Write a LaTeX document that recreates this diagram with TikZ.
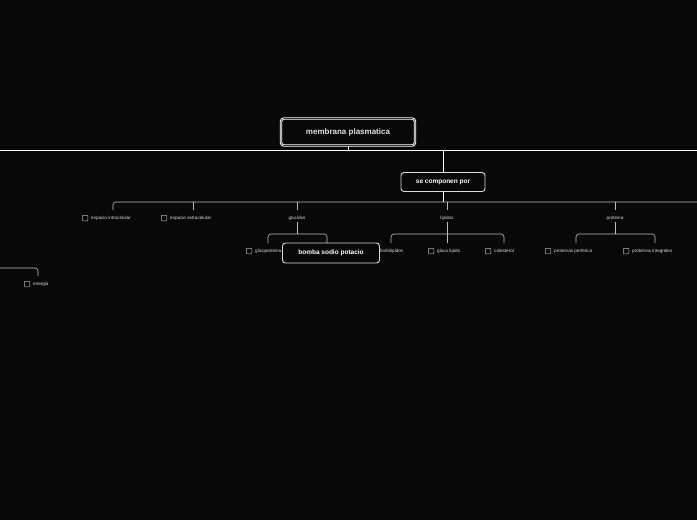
\documentclass[tikz,border=0pt]{standalone}
\usepackage{fontspec}
\setmainfont{Liberation Sans}
\begin{document}
\begin{tikzpicture}[x=1pt,y=-1pt,
  main/.style={draw=white,line width=0.9pt,rounded corners=3pt,fill=black!97,text=white!88!black,font=\bfseries\fontsize{8}{9}\selectfont,inner sep=0pt,double=black!80,double distance=0.6pt},
  sub/.style={draw=white!85!black,line width=0.9pt,rounded corners=3pt,fill=black!97,text=white,font=\bfseries\fontsize{6.5}{8}\selectfont,inner sep=0pt},
  lbl/.style={text=white!85!black,font=\fontsize{4.6}{5.5}\selectfont,inner sep=0pt,anchor=west},
  clbl/.style={text=white!85!black,font=\fontsize{4.6}{5.5}\selectfont,inner sep=0pt},
  cb/.style={draw=white!70!black,line width=0.5pt,rounded corners=0.8pt,minimum size=5.5pt,inner sep=0pt},
  wl/.style={draw=white,line width=0.9pt},
  gl/.style={draw=white!75!black,line width=0.6pt,rounded corners=3pt}]
\fill[black!98!blue!60!white] (0,0) rectangle (697,520);
\fill[black!97] (0,0) rectangle (697,520);
\useasboundingbox (0,0) rectangle (697,520);
% top lines
\coordinate (L) at (0,150); \coordinate (R) at (697,150);
\draw[wl] (L) -- (R);
\draw[wl] (348,146) -- (348,150);
\draw[wl] (443,150) -- (443,172);
\node[main,minimum width=134pt,minimum height=27pt] (root) at (348,132) {membrana plasmatica};
% second level
\draw[wl] (443,191) -- (443,202);
\draw[gl] (113,210) -- (113,202) -- (697,202);
\draw[gl] (193,210) -- (193,202);
\draw[gl] (297,210) -- (297,202);
\draw[gl] (447,210) -- (447,202);
\draw[gl] (615,202) -- (615,210);
\node[sub,minimum width=84pt,minimum height=19pt] (sc) at (443,182) {se componen por};
\node[cb] (c1) at (85,218) {}; \node[lbl] (t1) at (91,218) {espacio intracelular};
\node[cb] (c2) at (164,218) {}; \node[lbl] (t2) at (170,218) {espacio extracelular};
\node[clbl] (glu) at (297,218) {glucidos};
\node[clbl] (lip) at (447,218) {lipidos};
\node[clbl] (pro) at (615,218) {proteina};
% glucidos
\draw[gl] (297,222) -- (297,234);
\draw[gl] (268,243) -- (268,234) -- (327,234) -- (327,243);
\node[cb] (c3) at (249,251) {}; \node[lbl] (t3) at (255,251) {glicoproteina};
% lipidos
\draw[gl] (447,222) -- (447,243);
\draw[gl] (391,243) -- (391,234) -- (504,234) -- (504,243);
\node[lbl] (t4) at (380,251) {fosfolipidos};
\node[cb] (c5) at (431,251) {}; \node[lbl] (t5) at (437,251) {gluco lipido};
\node[cb] (c6) at (488,251) {}; \node[lbl] (t6) at (494,251) {colesterol};
% proteina
\draw[gl] (615,222) -- (615,234);
\draw[gl] (576,243) -- (576,234) -- (655,234) -- (655,243);
\node[cb] (c7) at (548,251) {}; \node[lbl] (t7) at (554,251) {proteinas perferica};
\node[cb] (c8) at (626,251) {}; \node[lbl] (t8) at (632,251) {proteinas integrales};
\node[sub,minimum width=97pt,minimum height=20pt] (bomba) at (331,253) {bomba sodio potacio};
% left
\draw[gl] (0,268) -- (38,268) -- (38,276);
\node[cb] (c9) at (27,284) {}; \node[lbl] (t9) at (33,284) {energia};
\end{tikzpicture}
\end{document}
